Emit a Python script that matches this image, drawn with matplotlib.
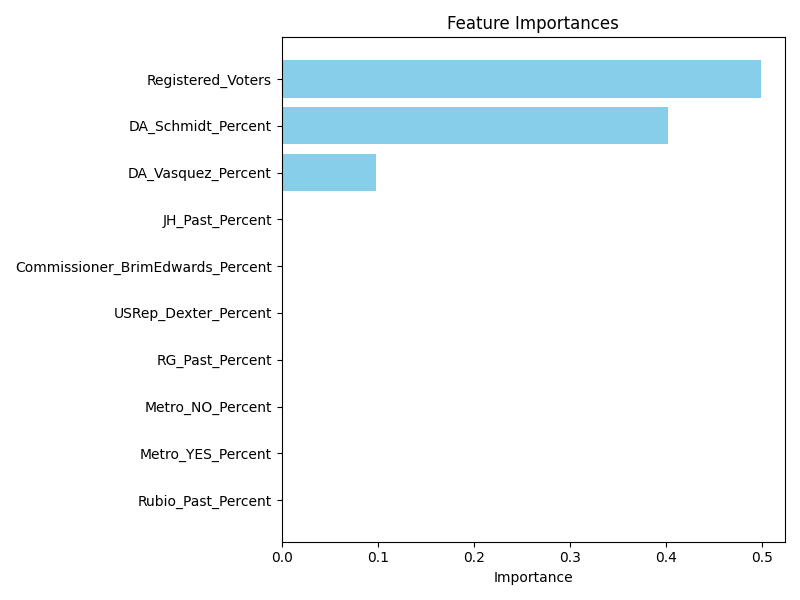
import matplotlib
matplotlib.use("Agg")
import matplotlib.pyplot as plt

features = ['Registered_Voters', 'DA_Schmidt_Percent', 'DA_Vasquez_Percent', 'JH_Past_Percent',
            'Commissioner_BrimEdwards_Percent', 'USRep_Dexter_Percent', 'RG_Past_Percent',
            'Metro_NO_Percent', 'Metro_YES_Percent', 'Rubio_Past_Percent']
importances = [0.499, 0.402, 0.098, 0.0015, 0.0003, 0.0002, 0.0001, 0.0001, 0.0, 0.0]

plt.figure(figsize=(8, 6))
plt.barh(features[::-1], importances[::-1], color='skyblue')
plt.xlabel('Importance')
plt.title('Feature Importances')
plt.tight_layout()
plt.savefig('out.png', dpi=100)
